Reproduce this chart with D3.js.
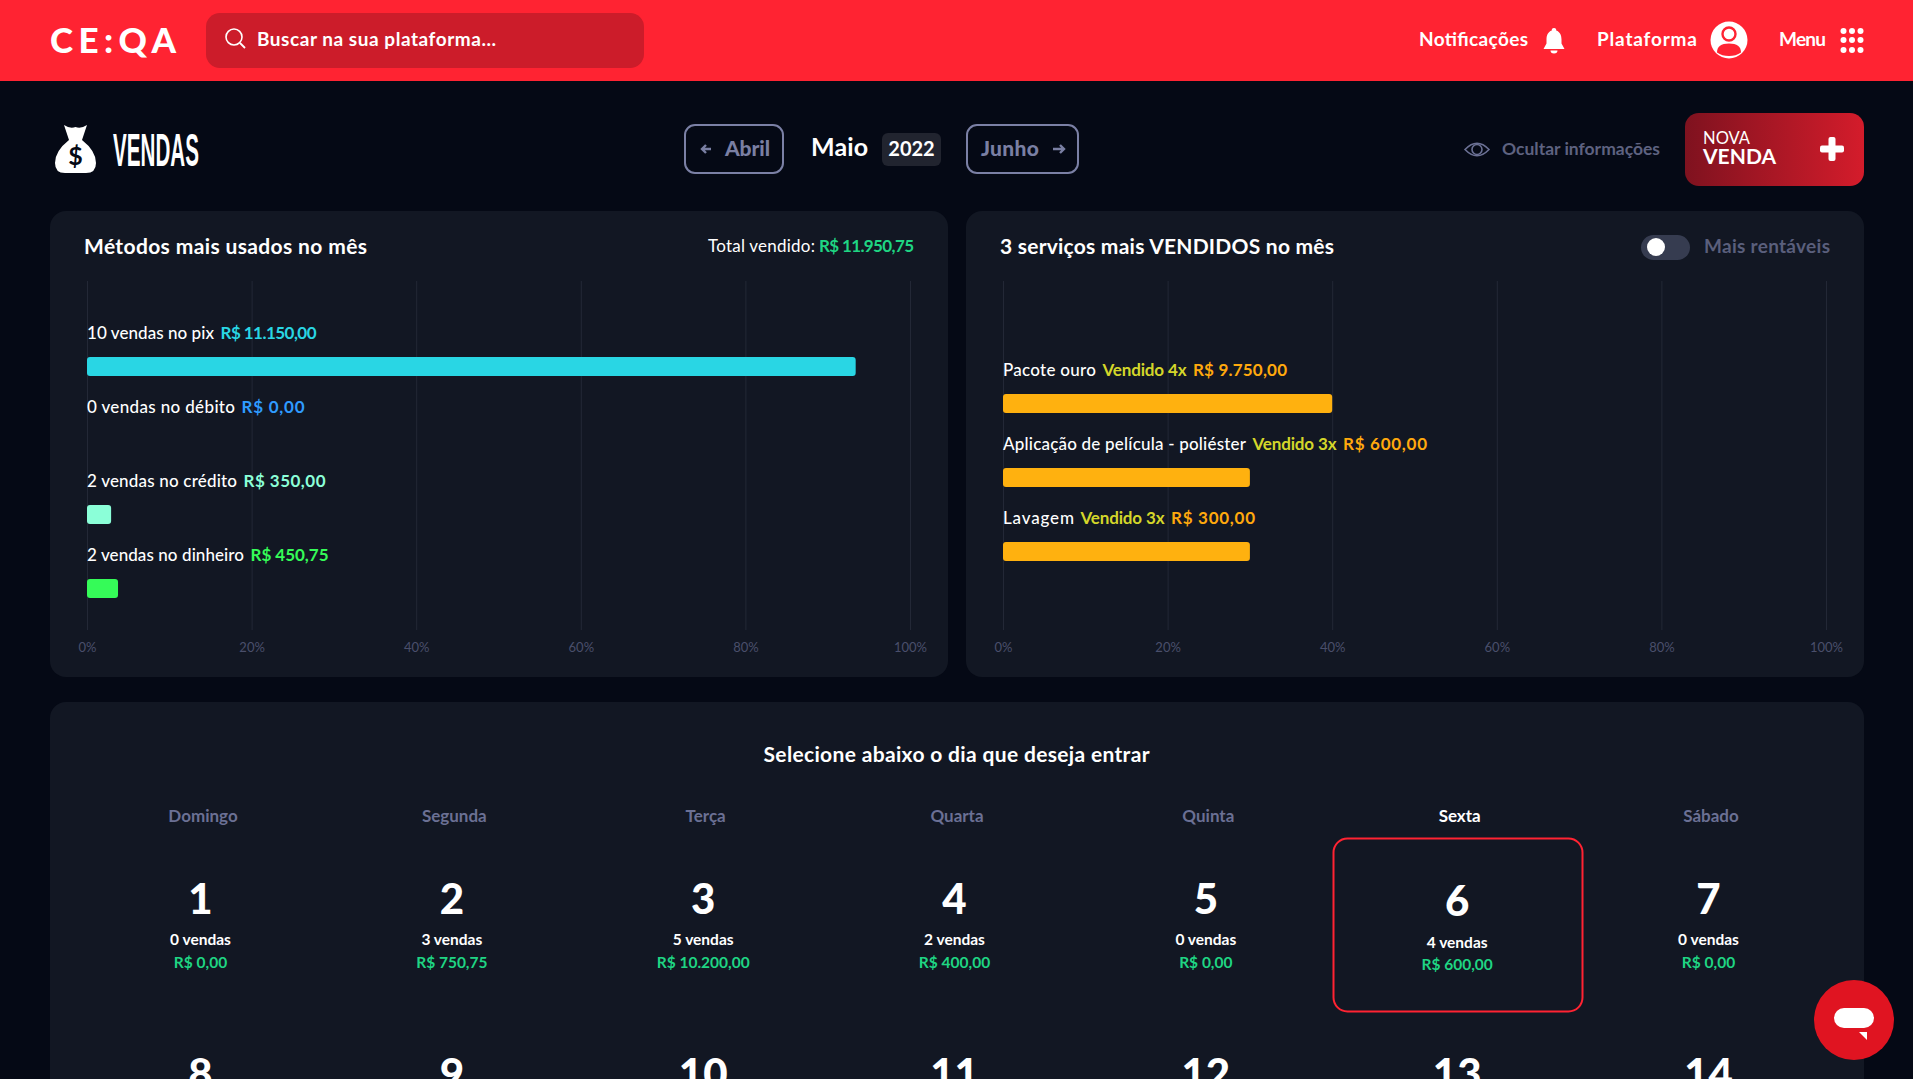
<!DOCTYPE html>
<html lang="pt-BR"><head><meta charset="utf-8"><title>Vendas</title>
<script src="https://cdn.jsdelivr.net/npm/d3@7"></script>
<style>
html,body{margin:0;padding:0;background:#050915;overflow:hidden}
svg{display:block}
text{font-family:Lato,"Open Sans",sans-serif;dominant-baseline:central}
</style></head><body>
<svg id="c" width="1913" height="1079"></svg>
<script>
// ---- data ----
const methodNames = ["10 vendas no pix","0 vendas no débito","2 vendas no crédito","2 vendas no dinheiro"];
const methodAmounts = ["R$ 11.150,00","R$ 0,00","R$ 350,00","R$ 450,75"];
const methodPercent = [93.4,0,2.93,3.77];
const methodColors = ["#29d6e4","#2f9bff","#8bffd8","#35fb58"];
const serviceNames = ["Pacote ouro","Aplicação de película - poliéster","Lavagem"];
const serviceSold = ["Vendido 4x","Vendido 3x","Vendido 3x"];
const serviceAmounts = ["R$ 9.750,00","R$ 600,00","R$ 300,00"];
const servicePercent = [40,30,30];
const percentTicks = [0,20,40,60,80,100];
const weekdays = ["Domingo","Segunda","Terça","Quarta","Quinta","Sexta","Sábado"];
const days = [1,2,3,4,5,6,7,8,9,10,11,12,13,14];
const daySales = ["0 vendas","3 vendas","5 vendas","2 vendas","0 vendas","4 vendas","0 vendas"];
const dayAmounts = ["R$ 0,00","R$ 750,75","R$ 10.200,00","R$ 400,00","R$ 0,00","R$ 600,00","R$ 0,00"];
const selectedDay = 6;

// ---- text fitting (layout only) ----
const methodFit = [[127,96],[148,63],[150,82],[157,78]];
const serviceFit = [[93,84,94],[243,84,84],[71,84,84]];

// ---- helpers ----
const svg = d3.select("#c");
const RED="#ff2332", PANEL="#121723", GREEN="#1fd583", MUTED="#6b7094";
function T(p,x,y,s,o={}){
  const t=p.append("text").attr("x",x).attr("y",y).text(s)
    .attr("font-size",o.size||16).attr("font-weight",o.weight||400).attr("fill",o.fill||"#fff")
    .attr("text-anchor",o.anchor||"start");
  if(o.w) t.attr("textLength",o.w).attr("lengthAdjust",o.adjust||"spacing");
  return t;
}
function R(p,x,y,w,h,r,fill,stroke,sw){
  return p.append("rect").attr("x",x).attr("y",y).attr("width",w).attr("height",h).attr("rx",r)
    .attr("fill",fill||"none").attr("stroke",stroke||"none").attr("stroke-width",sw||0);
}
const defs=svg.append("defs");
const grad=defs.append("linearGradient").attr("id","nv");
grad.append("stop").attr("offset","0").attr("stop-color","#7f121f");
grad.append("stop").attr("offset","1").attr("stop-color","#d41c2b");

// ---- header ----
const head=svg.append("g");
R(head,0,0,1913,81,0,RED);
T(head,50,39,"CE:QA",{size:35,weight:900,w:126});
R(head,206,13,438,55,14,"#cc1c2a");
head.append("circle").attr("cx",234).attr("cy",37).attr("r",8).attr("fill","none").attr("stroke","#fff").attr("stroke-width",1.6);
head.append("path").attr("d","M240 43L245 48").attr("stroke","#fff").attr("stroke-width",1.8);
T(head,257,38.5,"Buscar na sua plataforma...",{size:19,weight:700,w:239});
T(head,1419,38.5,"Notificações",{size:19,weight:700,w:109});
head.append("path").attr("fill","#fff").attr("d","M1554 28a2.2 2.2 0 0 1 2.2 2.5c4 1.4 5.3 5 5.3 9v4l3 5.5h-21l3-5.5v-4c0-4 1.3-7.6 5.3-9A2.2 2.2 0 0 1 1554 28zM1550.5 50.5h7a3.5 3 0 0 1-7 0z");
T(head,1597,38.5,"Plataforma",{size:19,weight:700,w:100});
head.append("circle").attr("cx",1729).attr("cy",40).attr("r",18.5).attr("fill","#fff");
head.append("circle").attr("cx",1729).attr("cy",34).attr("r",6.5).attr("fill","#fff").attr("stroke",RED).attr("stroke-width",2.4);
head.append("path").attr("fill",RED).attr("d","M1717 52.5Q1717 43.5 1729 43.5Q1741 43.5 1741 52.5Q1736 56 1729 56Q1722 56 1717 52.5Z");
T(head,1779,38.5,"Menu",{size:19,weight:700,w:47});
head.selectAll("circle.dot").data(d3.cross([1843.5,1852,1860.5],[31,40,50])).join("circle").attr("class","dot")
  .attr("cx",d=>d[0]).attr("cy",d=>d[1]).attr("r",3).attr("fill","#fff");

// ---- title row ----
const row=svg.append("g");
row.append("path").attr("fill","#fff").attr("d","M64 125Q70 129 75.5 127Q81 129 87 125L82 140Q96 151 96 163Q96 173 86 173L65 173Q55 173 55 163Q55 151 69 140Z");
T(row,75.5,155,"$",{size:25,weight:700,fill:"#050915",anchor:"middle"});
T(row,113,149.5,"VENDAS",{size:46,weight:700,w:86,adjust:"spacingAndGlyphs"}).style("font-family","'Liberation Sans Narrow','Liberation Sans',sans-serif");
R(row,685,125,98,48,10,"none","#7b80a5",2);
row.append("path").attr("d","M711 149H702M706 145L702 149L706 153").attr("fill","none").attr("stroke","#7a7fa3").attr("stroke-width",2.4);
T(row,725,147,"Abril",{size:21,weight:900,fill:"#7a7fa3",w:45});
T(row,811,146,"Maio",{size:25,weight:700,w:57});
R(row,882,133,59,33,6,"#21242f");
T(row,911.5,147.5,"2022",{size:20,weight:700,anchor:"middle"});
R(row,967,125,111,48,10,"none","#7b80a5",2);
T(row,981,147,"Junho",{size:21,weight:900,fill:"#7a7fa3",w:58});
row.append("path").attr("d","M1053 149H1064M1060 145L1064 149L1060 153").attr("fill","none").attr("stroke","#7a7fa3").attr("stroke-width",2.4);
row.append("path").attr("d","M1465 149.5Q1477 137 1489 149.5Q1477 162 1465 149.5Z").attr("fill","none").attr("stroke","#6b7094").attr("stroke-width",1.6);
row.append("circle").attr("cx",1477).attr("cy",149.5).attr("r",5).attr("fill","none").attr("stroke","#6b7094").attr("stroke-width",1.6);
T(row,1502,148,"Ocultar informações",{size:17.5,weight:700,fill:"#5e6280",w:158});
R(row,1685,113,179,73,14,"url(#nv)");
T(row,1703,138,"NOVA",{size:16.5,w:47});
T(row,1703,155.5,"VENDA",{size:21,weight:700,w:73});
R(row,1828.5,137,7,24,2,"#fff");
R(row,1820,145.5,24,7,2,"#fff");

// ---- bar panels ----
function labelRow(g,x,y,parts){
  let cx=x;
  parts.forEach(p=>{
    T(g,cx,y,p.s,{size:p.size||17,weight:p.weight||500,fill:p.fill,w:p.w});
    cx+=p.w+(p.gap||6.5);
  });
}
function barPanel(px,x0,x1,yStart,names,percent,colorOf,partsOf){
  const g=svg.append("g");
  R(g,px,211,898,466,16,PANEL);
  const x=d3.scaleLinear().domain([0,100]).range([x0,x1]);
  const y=d3.scaleBand().domain(names).range([yStart,yStart+74*names.length]);
  const axis=g.append("g").attr("transform","translate(0,630)")
    .call(d3.axisBottom(x).tickValues(percentTicks).tickFormat(d=>d+"%").tickSize(-349).tickPadding(10));
  axis.select(".domain").remove();
  axis.selectAll("line").attr("stroke","#232836");
  axis.selectAll("text").attr("fill","#4a4f6b").attr("font-size",13).attr("dy",0).attr("y",16.5);
  names.forEach((n,i)=>{
    const b=y(n);
    R(g,x(0),b+27.5,x(percent[i])-x(0),19,3,colorOf(i)).attr("class","bar");
    labelRow(g,x(0),b+2.5,partsOf(n,i));
  });
  return g;
}
const left=barPanel(50,87,910,329.5,methodNames,methodPercent,i=>methodColors[i],
  (n,i)=>[{s:n,fill:"#fff",w:methodFit[i][0]},{s:methodAmounts[i],fill:methodColors[i],weight:700,w:methodFit[i][1]}]);
T(left,84,245.5,"Métodos mais usados no mês",{size:21,weight:700,w:283});
T(left,708,245.5,"Total vendido:",{size:17,w:107});
T(left,819,245.5,"R$ 11.950,75",{size:17,weight:700,fill:GREEN,w:95});

const right=barPanel(966,1003,1826,366.5,serviceNames,servicePercent,()=>"#ffb10f",
  (n,i)=>[{s:n,fill:"#fff",w:serviceFit[i][0]},{s:serviceSold[i],fill:"#d4d62a",weight:700,w:serviceFit[i][1]},{s:serviceAmounts[i],fill:"#ffa90d",weight:700,w:serviceFit[i][2]}]);
T(right,1000,245.5,"3 serviços mais VENDIDOS no mês",{size:21,weight:700,w:334});
R(right,1641,235,49,25,12.5,"#363c50");
right.append("circle").attr("cx",1656).attr("cy",247).attr("r",9).attr("fill","#fff");
T(right,1704,245.5,"Mais rentáveis",{size:19,weight:700,fill:"#5a5f7c",w:126});

// ---- calendar ----
const cal=svg.append("g");
cal.append("path").attr("fill",PANEL).attr("d","M50 1079V718a16 16 0 0 1 16-16H1848a16 16 0 0 1 16 16V1079Z");
T(cal,956.5,753,"Selecione abaixo o dia que deseja entrar",{size:21,weight:700,anchor:"middle",w:386});
const wx=d3.scalePoint().domain(weekdays).range([203,1711]);
const dx=d3.scalePoint().domain(weekdays).range([200.5,1708.5]);
weekdays.forEach((w,i)=>T(cal,wx(w),815.5,w,{size:17,weight:700,fill:i===5?"#fff":MUTED,anchor:"middle"}));
days.forEach((d,i)=>{
  const col=i%7, r=Math.floor(i/7), sel=d===selectedDay, cx=dx(weekdays[col]);
  const off=sel?2:0;
  T(cal,cx,898+175*r+off,d,{size:42,weight:900,anchor:"middle"});
  if(r===0){
    T(cal,cx,939+(sel?3:0),daySales[i],{size:15.5,weight:700,anchor:"middle"});
    T(cal,cx,961.5+off,dayAmounts[i],{size:15.5,weight:700,fill:GREEN,anchor:"middle"});
  }
  if(sel) R(cal,1333.5,838.5,249,173,14,"none",RED,2);
});

// ---- chat bubble ----
const chat=svg.append("g");
chat.append("circle").attr("cx",1854).attr("cy",1020).attr("r",40).attr("fill","#e01421");
R(chat,1834,1008,40,20,10,"#fff");
chat.append("path").attr("d","M1859 1032H1867V1040Z").attr("fill","#fff");
</script></body></html>
